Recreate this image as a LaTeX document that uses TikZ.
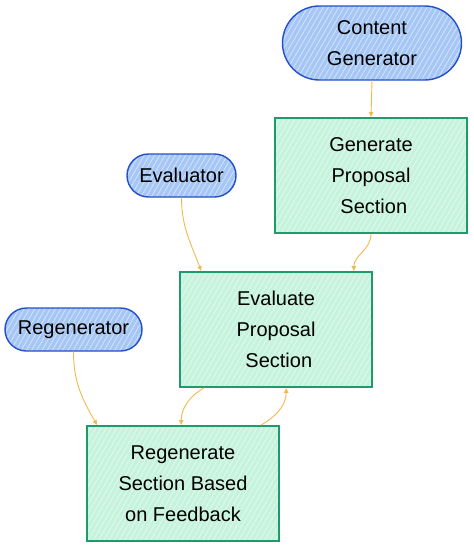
\documentclass[tikz,border=0pt]{standalone}
\usepackage{fontspec}
\setmainfont{Liberation Sans}
\usetikzlibrary{shapes.misc,patterns.meta,arrows.meta}
\definecolor{agentfill}{HTML}{A6C7F6}
\definecolor{agentline}{HTML}{2350C8}
\definecolor{taskfill}{HTML}{C6F3DD}
\definecolor{taskline}{HTML}{1E9A6C}
\definecolor{flow}{HTML}{F2B84B}
\tikzset{
  agent/.style={rounded rectangle, draw=agentline, line width=1.4pt,
    preaction={fill=agentfill}, pattern={Lines[angle=60,distance=4.5pt,line width=0.7pt]}, pattern color=white!55!agentfill,
    align=center, font=\fontsize{20}{31}\selectfont, inner sep=0pt},
  task/.style={rectangle, draw=taskline, line width=1.6pt,
    preaction={fill=taskfill}, pattern={Lines[angle=60,distance=4.5pt,line width=0.7pt]}, pattern color=white!55!taskfill,
    minimum width=192pt, minimum height=115pt, align=center,
    font=\fontsize{20}{31}\selectfont, inner sep=0pt},
  link/.style={draw=flow, line width=0.9pt, -{Latex[length=5pt,width=5pt]}}
}
\begin{document}
\begin{tikzpicture}[x=1pt,y=-1pt]
\useasboundingbox (0,0) rectangle (474,549);
\node[agent, minimum width=179pt, minimum height=74pt] (cg) at (372,43) {Content\\Generator};
\node[task] (gps) at (371,175.5) {Generate\\Proposal\\\ Section};
\node[agent, minimum width=109pt, minimum height=43pt] (ev) at (181.5,175.5) {Evaluator};
\node[task] (eps) at (276,329.5) {Evaluate\\Proposal\\\ Section};
\node[agent, minimum width=137pt, minimum height=43pt] (rg) at (73.5,329.5) {Regenerator};
\node[task] (rs) at (183,483.5) {Regenerate\\Section Based\\on Feedback};
\draw[link] (cg.south) -- (gps.north);
\draw[link] (gps.south) to[out=-90,in=90,looseness=1] ([xshift=-19pt]eps.north east);
\draw[link] (ev.south) to[out=-90,in=110,looseness=1] ([xshift=22pt]eps.north west);
\draw[link] (rg.south) to[out=-90,in=120,looseness=1] ([xshift=11pt]rs.north west);
\draw[link] ([xshift=25pt]eps.south west) to[out=-150,in=90,looseness=1] ([xshift=95pt]rs.north west);
\draw[link] ([xshift=-19pt]rs.north east) to[out=30,in=-90,looseness=1] ([xshift=107pt]eps.south west);
\end{tikzpicture}
\end{document}
